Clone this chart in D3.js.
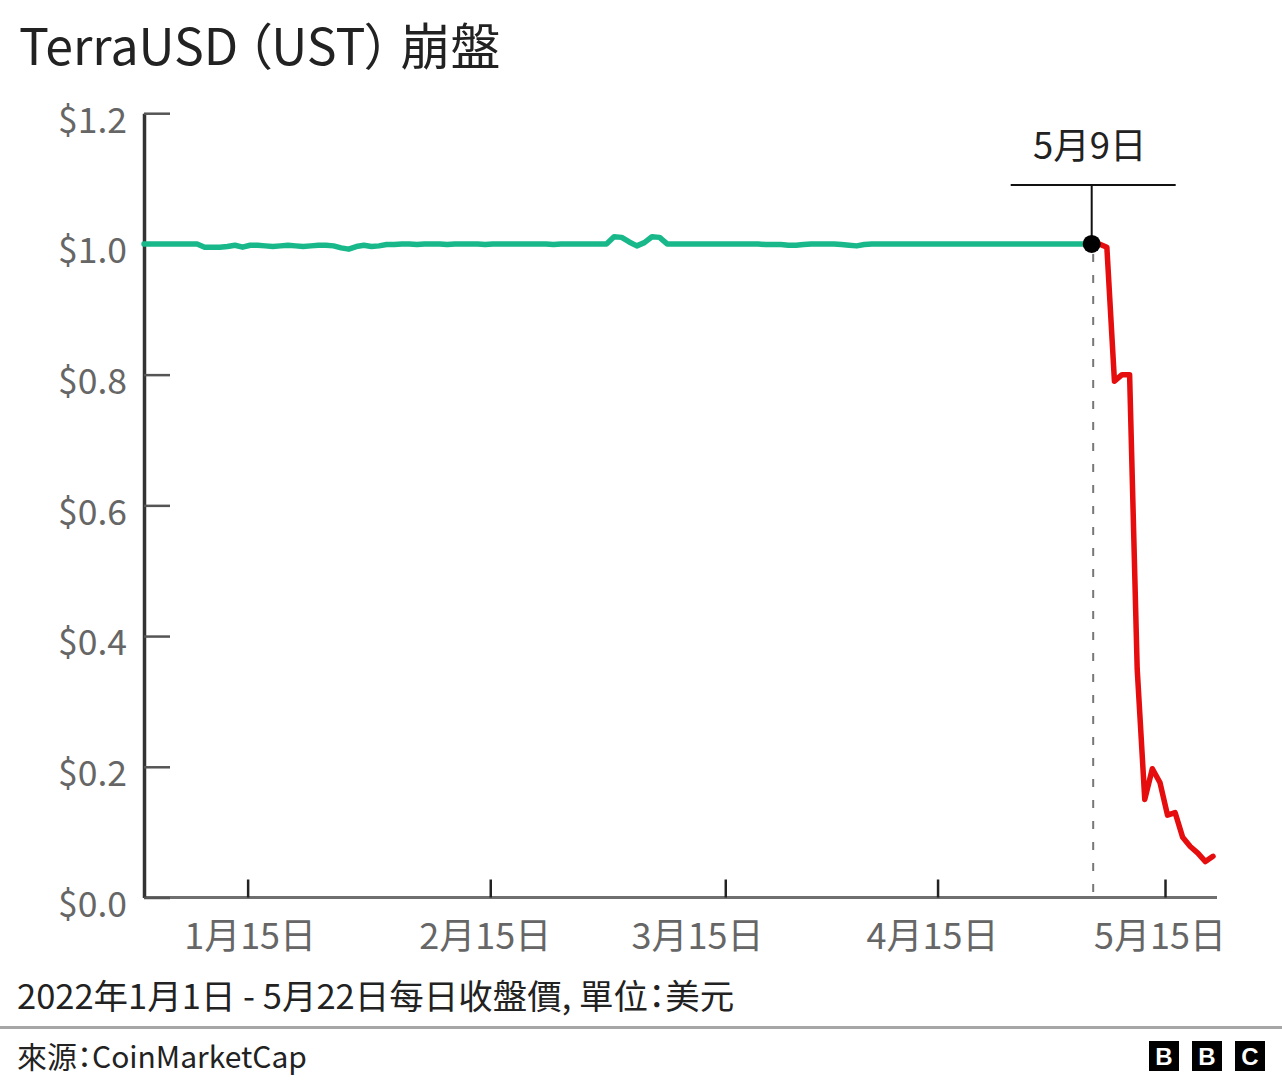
<!DOCTYPE html>
<html><head><meta charset="utf-8">
<script src="https://cdn.jsdelivr.net/npm/d3@7"></script>
<style>
html,body{margin:0;padding:0;background:#fff;}
svg{display:block;}
text{font-family:"Noto Sans CJK TC","Noto Sans CJK SC","Noto Sans",sans-serif;}
.palt{font-feature-settings:"palt" 1;}
</style></head><body>
<svg id="chart" width="1282" height="1080"></svg>
<script>
// ---------- data ----------
const startDate = "2022-01-01";
const endDate = "2022-05-22";
// daily closing price, Jan 1 .. May 6 (green part)
const greenValues = [
  1.000,1.000,1.000,1.000,1.000,1.000,1.000,1.000,0.995,0.995,
  0.995,0.996,0.998,0.995,0.998,0.998,0.997,0.996,0.997,0.998,
  0.997,0.996,0.997,0.998,0.998,0.997,0.994,0.992,0.996,0.998,
  0.996,0.997,0.999,0.999,1.000,1.000,0.999,1.000,1.000,1.000,
  0.999,1.000,1.000,1.000,1.000,0.999,1.000,1.000,1.000,1.000,
  1.000,1.000,1.000,1.000,0.999,1.000,1.000,1.000,1.000,1.000,
  1.000,1.000,1.011,1.010,1.003,0.997,1.002,1.011,1.010,1.000,
  1.000,1.000,1.000,1.000,1.000,1.000,1.000,1.000,1.000,1.000,
  1.000,1.000,0.999,0.999,0.999,0.998,0.998,0.999,1.000,1.000,
  1.000,1.000,0.999,0.998,0.997,0.999,1.000,1.000,1.000,1.000,
  1.000,1.000,1.000,1.000,1.000,1.000,1.000,1.000,1.000,1.000,
  1.000,1.000,1.000,1.000,1.000,1.000,1.000,1.000,1.000,1.000,
  1.000,1.000,1.000,1.000,1.000,1.000
];
// daily closing price, May 6 .. May 22 (red part)
const redStart = "2022-05-06";
const redValues = [
  1.000,1.000,0.995,0.790,0.800,0.800,0.350,0.150,0.197,0.176,
  0.126,0.130,0.092,0.078,0.068,0.055,0.063
];
const yTicks = [0, 0.2, 0.4, 0.6, 0.8, 1.0, 1.2];
const yTickLabels = ["$0.0","$0.2","$0.4","$0.6","$0.8","$1.0","$1.2"];
const xLabelDates = ["2022-01-15","2022-02-15","2022-03-15","2022-04-15","2022-05-15"];
const xTickLabels = ["1月15日","2月15日","3月15日","4月15日","5月15日"];
const xTickMarkDates = ["2022-01-15","2022-02-16","2022-03-19","2022-04-16","2022-05-16"];
const annotationDate = "2022-05-06";
const annotationText = "5月9日";
const titleParts = ["TerraUSD", "（UST）", "崩盤"];
const subtitleText = "2022年1月1日 - 5月22日每日收盤價, 單位：美元";
const sourceText = "來源：CoinMarketCap";
const logoLetters = ["B","B","C"];

// ---------- setup ----------
const parse = d3.utcParse("%Y-%m-%d");
const svg = d3.select("#chart");
const plotLeft = 144, plotRight = 1213, plotTop = 113.2, plotBottom = 897.5;

const x = d3.scaleUtc().domain([parse(startDate), parse(endDate)]).range([plotLeft, plotRight]);
const y = d3.scaleLinear().domain([0, 1.2]).range([plotBottom, plotTop]);

const greenData = greenValues.map((v, i) => ({date: d3.utcDay.offset(parse(startDate), i), value: v}));
const redData = redValues.map((v, i) => ({date: d3.utcDay.offset(parse(redStart), i), value: v}));

// title
const title = svg.append("text").attr("class", "palt").attr("x", 19).attr("y", 65)
  .attr("font-size", 50).attr("fill", "#222");
title.append("tspan").text(titleParts[0]);
title.append("tspan").attr("dx", 8).text(titleParts[1]);
title.append("tspan").attr("dx", 10).text(titleParts[2]);

// x axis baseline
svg.append("line")
  .attr("x1", plotLeft).attr("x2", plotRight + 4)
  .attr("y1", y(0)).attr("y2", y(0))
  .attr("stroke", "#6f6f6f").attr("stroke-width", 3);

// x tick marks
svg.append("g").selectAll("line").data(xTickMarkDates).join("line")
  .attr("x1", d => x(parse(d)) - 2).attr("x2", d => x(parse(d)) - 2)
  .attr("y1", y(0) - 18).attr("y2", y(0))
  .attr("stroke", "#222").attr("stroke-width", 2.5);

// x labels
svg.append("g").selectAll("text").data(xLabelDates).join("text")
  .attr("x", d => x(parse(d))).attr("y", 949)
  .attr("text-anchor", "middle").attr("font-size", 36).attr("fill", "#666")
  .text((d, i) => xTickLabels[i]);

// y axis
const yAxis = d3.axisLeft(y).tickValues(yTicks).tickSizeInner(-26).tickSizeOuter(0)
  .tickPadding(17).tickFormat((d, i) => yTickLabels[i]);
const yg = svg.append("g").attr("transform", `translate(${plotLeft},0)`).call(yAxis);
yg.select(".domain").attr("stroke", "#333").attr("stroke-width", 3.5);
yg.selectAll(".tick line").attr("stroke", "#555").attr("stroke-width", 2.5);
yg.selectAll(".tick text").attr("font-size", 35.5).attr("fill", "#666")
  .attr("dy", "0.53em").style("font-family", '"Noto Sans CJK TC","Noto Sans",sans-serif');

// dashed annotation line
const ax = x(parse(annotationDate));
svg.append("line")
  .attr("x1", ax + 1.5).attr("x2", ax + 1.5)
  .attr("y1", y(1.0) + 10).attr("y2", y(0) - 2)
  .attr("stroke", "#777").attr("stroke-width", 2).attr("stroke-dasharray", "8,13");

// lines
const line = d3.line().x(d => x(d.date)).y(d => y(d.value));
svg.append("path").datum(greenData).attr("d", line)
  .attr("fill", "none").attr("stroke", "#19b88a").attr("stroke-width", 5.5)
  .attr("stroke-linejoin", "round").attr("stroke-linecap", "round");
svg.append("path").datum(redData).attr("d", line)
  .attr("fill", "none").attr("stroke", "#e50d0d").attr("stroke-width", 5.5)
  .attr("stroke-linejoin", "round").attr("stroke-linecap", "round");

// annotation
const annY = 185;
svg.append("line").attr("x1", ax - 81).attr("x2", ax + 84).attr("y1", annY).attr("y2", annY)
  .attr("stroke", "#111").attr("stroke-width", 2);
svg.append("line").attr("x1", ax).attr("x2", ax).attr("y1", annY).attr("y2", y(1.0))
  .attr("stroke", "#111").attr("stroke-width", 2);
svg.append("circle").attr("cx", ax).attr("cy", y(1.0)).attr("r", 9).attr("fill", "#000");
svg.append("text").attr("x", ax - 2).attr("y", 159).attr("text-anchor", "middle")
  .attr("font-size", 36.5).attr("fill", "#222").text(annotationText);

// subtitle
svg.append("text").attr("class", "palt").attr("x", 17).attr("y", 1009)
  .attr("font-size", 34.5).attr("fill", "#222").text(subtitleText);

// separator
svg.append("line").attr("x1", 0).attr("x2", 1282).attr("y1", 1027.5).attr("y2", 1027.5)
  .attr("stroke", "#a6a6a6").attr("stroke-width", 3);

// source
svg.append("text").attr("class", "palt").attr("x", 17).attr("y", 1068)
  .attr("font-size", 30).attr("fill", "#222").text(sourceText);

// BBC logo
const logo = svg.append("g").attr("transform", "translate(1149,1041)");
logoLetters.forEach((l, i) => {
  logo.append("rect").attr("x", i * 43).attr("y", 0).attr("width", 30).attr("height", 30).attr("fill", "#000");
  logo.append("text").attr("x", i * 43 + 15).attr("y", 23.5).attr("text-anchor", "middle")
    .attr("font-size", 24).attr("font-weight", "bold").attr("fill", "#fff")
    .style("font-family", '"Liberation Sans",Arial,sans-serif').text(l);
});
</script>
</body></html>
